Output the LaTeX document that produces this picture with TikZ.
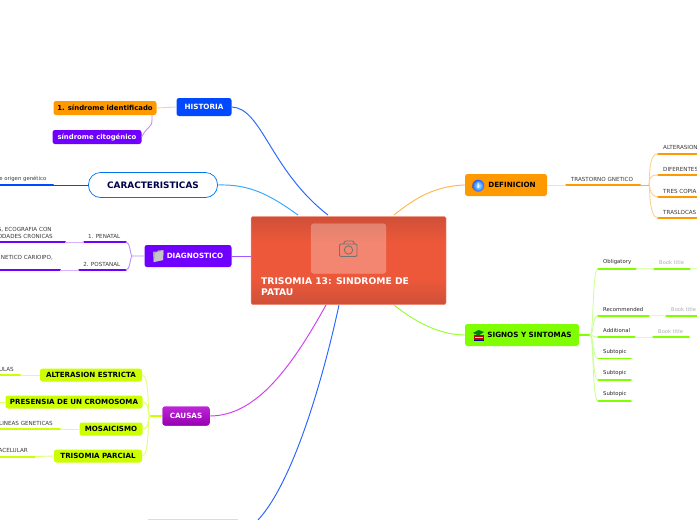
\documentclass[tikz,border=0pt]{standalone}
\usepackage{fontspec}
\setmainfont{DejaVu Sans}
\usetikzlibrary{calc}
\definecolor{hblue}{HTML}{0049FF}
\definecolor{horange}{HTML}{FF9900}
\definecolor{hviolet}{HTML}{6F00FF}
\definecolor{hlime}{HTML}{7FFF00}
\definecolor{hyellow}{HTML}{CCFF00}
\definecolor{hpurple}{HTML}{B000D0}
\definecolor{hmag}{HTML}{D23CF0}
\definecolor{hcore}{HTML}{EE583A}
\definecolor{hcoredark}{HTML}{CE5038}
\pgfdeclareverticalshading{coreshade}{100bp}{color(0bp)=(hcoredark); color(25bp)=(hcoredark); color(40bp)=(hcore); color(60bp)=(hcore); color(75bp)=(hcoredark); color(100bp)=(hcoredark)}
\tikzset{
  x=1pt,y=-1pt,
  topic/.style={rounded corners=2.5pt,inner sep=0pt,font=\fontsize{7.2}{8}\selectfont\bfseries,align=center},
  leaf/.style={topic,font=\fontsize{7.1}{8}\selectfont\bfseries,minimum height=13pt,fill=hyellow},
  hleaf/.style={topic,font=\fontsize{6.9}{8}\selectfont\bfseries,minimum height=14pt},
  sub/.style={font=\fontsize{5.6}{6.3}\selectfont,inner sep=0pt,text=black!78,align=left},
  low/.style={sub,font=\fontsize{5.35}{6.3}\selectfont},
  faint/.style={font=\fontsize{5.2}{6}\selectfont,inner sep=0pt,text=black!32},
  bar/.style={line width=2pt,line cap=round},
  thin link/.style={line width=.9pt},
  main link/.style={line width=.95pt},
}
\begin{document}
\begin{tikzpicture}
\useasboundingbox (0,0) rectangle (697,520);
\clip (0,0) rectangle (697,520);
% ---- coordinates
\coordinate (cTop1) at (298,215);
\coordinate (cTop2) at (328,215);
\coordinate (cTop3) at (394,215);
\coordinate (cLeft) at (251,256);
\coordinate (cBot1) at (326,305);
\coordinate (cBot2) at (339,305);
\coordinate (cBot3) at (394,305);
% ---- nodes of the main branches
\node[topic,fill=hblue,text=white,minimum width=55pt,minimum height=18pt] (hist) at (204,107) {HISTORIA};
\node[hleaf,fill=horange,text=black,minimum width=103pt] (h1) at (105,108) {1. síndrome identificado};
\node[hleaf,fill=hviolet,text=white,minimum width=89pt] (h2) at (97,137) {síndrome citogénico};
\node[draw=black!10!blue!55!cyan,fill=white,rounded corners=12pt,line width=.7pt,minimum width=129pt,minimum height=25pt,inner sep=0pt,text=blue!30!black,font=\fontsize{8.9}{10}\selectfont\bfseries] (car) at (153,185) {CARACTERISTICAS};
\node[topic,fill=hviolet,text=white,minimum width=87pt,minimum height=22pt] (diag) at (188,256) {\hspace{14pt}DIAGNOSTICO};
\node[topic,fill=hpurple,text=white,minimum width=47pt,minimum height=19pt,top color=hpurple!85!white,bottom color=hpurple!85!black] (caus) at (186,416) {CAUSAS};
\node[leaf,minimum width=102pt] (c1) at (91,375) {ALTERASION ESTRICTA};
\node[leaf,minimum width=137pt] (c2) at (74,402) {PRESENSIA DE UN CROMOSOMA};
\node[leaf,minimum width=63pt] (c3) at (111,429) {MOSAICISMO};
\node[leaf,minimum width=88pt] (c4) at (98,456) {TRISOMIA PARCIAL};
\node[topic,fill=horange,text=black,minimum width=82pt,minimum height=22pt] (def) at (506,185) {\hspace{12pt}DEFINICION};
\node[topic,fill=hlime,text=black,minimum width=114pt,minimum height=22pt] (sig) at (522,335) {\hspace{15pt}SIGNOS Y SINTOMAS};
% ---- main connectors
\draw[main link,hblue!85!white] (hist.east) .. controls (262,108) and (270,170) .. (cTop2);
\draw[main link,hblue!60!cyan!80!white] (car.east) .. controls (250,184) and (270,195) .. (cTop1);
\draw[main link,hviolet!65!white] (diag.east) -- (cLeft);
\draw[main link,hmag] (caus.east) .. controls (255,416) and (290,370) .. (cBot1);
\draw[main link,hblue!85!white] (cBot2) .. controls (325,370) and (295,480) .. (258,520);
\draw[main link,horange!70!white] (cTop3) .. controls (415,198) and (435,186) .. (def.west);
\draw[main link,hlime!80!white] (cBot3) .. controls (415,322) and (440,335) .. (sig.west);
% ---- HISTORIA children
\draw[thin link,horange!45!white] (hist.west) -- (h1.east);
\coordinate (hj) at (152,120);
\draw[thin link,hviolet!45!white] (152,115) -- (hj) .. controls (152,128) and (147,126) .. (h2.east);
% ---- CARACTERISTICAS child
\node[low,anchor=south east] (ct) at (46.5,182) {e origen genético};
\coordinate (ca) at (0,185);
\coordinate (cb) at (53,185);
\draw[bar,hblue] (ca) -- (cb);
\draw[thin link,hblue] (cb) -- (car.west);
% ---- DIAGNOSTICO children
\coordinate (dj) at (132,256);
\coordinate (d1a) at (84,242);
\coordinate (d1b) at (126,242);
\coordinate (d2a) at (79,270);
\coordinate (d2b) at (126,270);
\node[sub,anchor=south east] (d1t) at (120.5,238.5) {1.  PENATAL};
\node[sub,anchor=south east] (d2t) at (120.5,266.5) {2.  POSTANAL};
\draw[bar,hviolet,line width=1.5pt] (d1a) -- (d1b);
\draw[bar,hviolet,line width=1.5pt] (d2a) -- (d2b);
\draw[thin link,hviolet!45!white] (diag.west) -- (dj) .. controls (130,254) and (130,242) .. (d1b);
\draw[thin link,hviolet!45!white] (dj) .. controls (130,258) and (130,270) .. (d2b);
\coordinate (d3b) at (65,242);
\coordinate (d4b) at (60,270);
\coordinate (d3a) at (0,242);
\coordinate (d4a) at (0,270);
\draw[bar,hviolet] (d3a) -- (d3b);
\draw[bar,hviolet] (d4a) -- (d4b);
\draw[thin link,hviolet!30!white] (d3b) -- (d1a);
\draw[thin link,hviolet!30!white] (d4b) -- (d2a);
\node[sub,anchor=south east] (d3t) at (53,238.5) {S, ECOGRAFIA CON\\ODADES CRONICAS};
\node[sub,anchor=south east] (d4t) at (53,260) {NETICO CARIOIPO,};
% ---- CAUSAS children
\coordinate (kj) at (150,416);
\draw[line width=1.5pt,hyellow] (caus.west) -- (kj);
\foreach \n in {c1,c2,c3,c4}{
  \draw[thin link,hyellow!55!white] (kj) .. controls (147,416) and (kj |- \n.east) .. (\n.east);
}
\coordinate (k1a) at (0,375);
\coordinate (k1b) at (20,375);
\coordinate (k3a) at (0,429);
\coordinate (k3b) at (60,429);
\coordinate (k4a) at (0,456.5);
\coordinate (k4b) at (35,456.5);
\coordinate (k2b) at (0,402);
\draw[bar,hyellow] (k1a) -- (k1b);
\draw[bar,hyellow] (k3a) -- (k3b);
\draw[bar,hyellow] (k4a) -- (k4b);
\draw[thin link,hyellow!55!white] (k1b) -- (c1.west);
\draw[thin link,hyellow!55!white] (k2b) -- (c2.west);
\draw[thin link,hyellow!55!white] (k3b) -- (c3.west);
\draw[thin link,hyellow!55!white] (k4b) -- (c4.west);
\node[sub,anchor=south east] (k1t) at (14,372) {ULAS};
\node[sub,anchor=south east] (k3t) at (53,425.5) {LINEAS GENETICAS};
\node[sub,anchor=south east] (k4t) at (28,452.5) {ACELULAR};
% ---- bottom stub
\coordinate (bs1) at (148,519.5);
\coordinate (bs2) at (238,519.5);
\draw[line width=1pt,red!20!white] (bs1) -- (bs2);
% ---- DEFINICION children
\coordinate (t0a) at (566,185);
\coordinate (t0b) at (640,185);
\coordinate (tj) at (649,185);
\node[sub,anchor=south] (t0) at (602,181.5) {TRASTORNO GNETICO};
\draw[bar,horange] (t0a) -- (t0b);
\draw[thin link,horange!30!white] (def.east) -- (t0a);
\draw[thin link,horange!80!white] (t0b) -- (tj);
\foreach \yy/\lab/\nm in {153.5/ALTERASION/a,175/DIFERENTES/b,197/TRES COPIA/c,218/TRASLOCAS/d}{
  \coordinate (t\nm) at (658,\yy);
  \coordinate (te\nm) at (697,\yy);
  \draw[bar,horange] (t\nm) -- (te\nm);
  \node[sub,anchor=south west] at (663,\yy-3.5) {\lab};
  \draw[thin link,horange!45!white] (tj) .. controls (650,180) and (648,\yy) .. (t\nm);
}
% ---- SIGNOS children
\coordinate (sj) at (590,335);
\draw[line width=1.5pt,hlime] (sig.east) -- (sj);
\foreach \yy/\lab/\xe/\nm in {268.7/Obligatory/636/a,315.7/Recommended/649/b,337/Additional/635/c,358.5/Subtopic/631/d,380/Subtopic/631/e,401.2/Subtopic/631/f}{
  \coordinate (s\nm) at (598,\yy);
  \coordinate (se\nm) at (\xe,\yy);
  \draw[bar,hlime,line width=1.8pt] (s\nm) -- (se\nm);
  \node[low,anchor=south west,text=black!85] at (603,\yy-4) {\lab};
  \draw[thin link,hlime!40!white] (sj) .. controls (594,335) and (592,\yy) .. (s\nm);
}
\coordinate (bta1) at (654,268.7);\coordinate (bta2) at (690,268.7);\coordinate (btae) at (697,268.7);
\coordinate (btb1) at (666,315.7);\coordinate (btb2) at (697,315.7);
\coordinate (btc1) at (653,337);\coordinate (btc2) at (689,337);
\draw[bar,hlime,line width=1.8pt] (bta1) -- (bta2);
\draw[bar,hlime,line width=1.8pt] (btb1) -- (btb2);
\draw[bar,hlime,line width=1.8pt] (btc1) -- (btc2);
\draw[thin link,hlime!30!white] (sea) -- (bta1);
\draw[thin link,hlime!30!white] (seb) -- (btb1);
\draw[thin link,hlime!30!white] (sec) -- (btc1);
\draw[thin link,hlime!30!white] (bta2) -- (btae);
\node[faint,anchor=south west] at (659,265) {Book title};
\node[faint,anchor=south west] at (671,312) {Book title};
\node[faint,anchor=south west] at (658,333.5) {Book title};
% ---- central topic
\node[rounded corners=1.5pt,minimum width=195pt,minimum height=88pt,inner sep=0pt,
  draw=hcore!70!white,line width=.5pt,shade,shading=coreshade] (core) at (348.5,260.5) {};
\node[rounded corners=3pt,minimum width=75pt,minimum height=50pt,inner sep=0pt,
  fill=white,fill opacity=.28,draw=white,draw opacity=.15] (ph) at (348.5,248.5) {};
% camera glyph
\draw[black!55,line width=.9pt,rounded corners=1.3pt,fill=none]
  (339.5,256.5) rectangle (357,244) ;
\draw[black!55,line width=.9pt,rounded corners=.8pt] (343.5,244) -- (345,241) -- (353,241) -- (354.5,244);
\draw[black!55,line width=.8pt] (348.5,250) circle (4.2pt);
\node[font=\fontsize{9.2}{11}\selectfont\bfseries,text=white,anchor=north west,align=left,inner sep=0pt] (coret) at (261,277)
  {TRISOMIA 13: SINDROME DE\\PATAU};
% ---- icons
\fill[gray!70] (153,251.5) -- (157,251.5) -- (158,250.5) -- (163.5,250) -- (163,260) -- (153.5,262) -- cycle;
\fill[gray!45] (155,253) -- (163.5,250.5) -- (163,260) -- (154,262) -- cycle;
\shade[inner color=cyan!35!white,outer color=blue!75!cyan!85!white] (478.3,185.7) circle (6pt);
\node[font=\fontsize{7}{7}\selectfont\bfseries,text=white,inner sep=0pt] at (478.3,185.7) {i};
\fill[blue!60!black] (473.5,339) rectangle (483.5,341);
\fill[red!75!black] (473.5,335) rectangle (483.5,339.5);
\fill[white!80!gray] (474.5,336.5) rectangle (483,338);
\fill[green!50!black] (473,333) -- (478.5,330) -- (484,332) -- (478.5,335.5) -- cycle;
\end{tikzpicture}
\end{document}
